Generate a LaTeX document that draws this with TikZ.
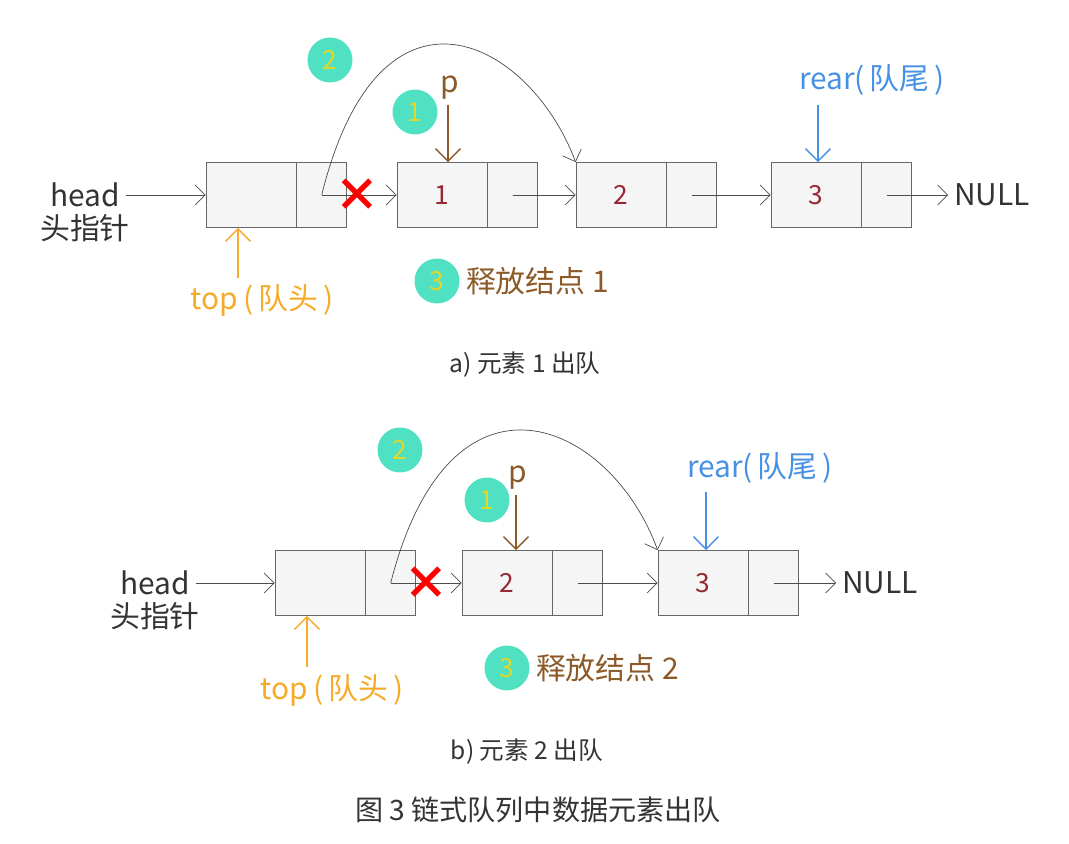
\documentclass[tikz,border=0pt]{standalone}
\usepackage{fontspec}
\setmainfont{Noto Sans CJK SC}
\usetikzlibrary{arrows.meta,positioning}
\definecolor{boxfill}{RGB}{245,245,245}
\definecolor{mint}{RGB}{80,225,195}
\definecolor{numyel}{RGB}{225,215,40}
\definecolor{brn}{RGB}{140,90,40}
\definecolor{rearblue}{RGB}{70,145,230}
\definecolor{toporange}{RGB}{245,170,40}
\definecolor{datared}{RGB}{150,40,50}
\begin{document}
\begin{tikzpicture}[x=0.02cm,y=-0.02cm,
    dpart/.style={rectangle, draw=gray!80!black, fill=boxfill, minimum width=1.8cm, minimum height=1.3cm, inner sep=0pt, font=\fontsize{15}{15}\selectfont, text=datared},
    ppart/.style={rectangle, draw=gray!80!black, fill=boxfill, minimum width=1.0cm, minimum height=1.3cm, inner sep=0pt},
    lbl/.style={font=\fontsize{17}{17}\selectfont, text=black!80},
    stepno/.style={circle, fill=mint, minimum size=0.9cm, inner sep=0pt, font=\fontsize{15}{15}\selectfont, text=numyel},
    captxt/.style={font=\fontsize{14}{14}\selectfont, text=black!80},
    arr/.style={-{Straight Barb[length=2mm]}, gray!60!black},
    parr/.style={-{Straight Barb[length=2.5mm]}, thick}
]
    \useasboundingbox (0,0) rectangle (1069,844);

    % ---- a) ----
    \node[dpart] (ah) at (251,195) {};
    \node[ppart, anchor=west] (ahp) at (ah.east) {};
    \node[dpart] (a1) at (442,195) {1};
    \node[ppart, anchor=west] (a1p) at (a1.east) {};
    \node[dpart] (a2) at (621,195) {2};
    \node[ppart, anchor=west] (a2p) at (a2.east) {};
    \node[dpart] (a3) at (816,195) {3};
    \node[ppart, anchor=west] (a3p) at (a3.east) {};

    \node[lbl] (ahead) at (85,195) {head};
    \node[lbl, below=-1mm of ahead] {头指针};
    \node[lbl] (anull) at (992,195) {NULL};

    \draw[arr] (ahead) -- (ah);
    \draw[arr] (ahp.center) -- (a1);
    \draw[arr] (a1p.center) -- (a2);
    \draw[arr] (a2p.center) -- (a3);
    \draw[arr] (a3p.center) -- (anull);
    \node[text=red, font=\fontsize{26}{26}\selectfont\bfseries] (ax) at (357,195) {\texttimes};

    \draw[arr] (ahp.center) .. controls (380,-40) and (530,40) .. (a2.north west);

    \node[stepno] (as2) at (330,60) {2};
    \node[stepno] (as1) at (415,112) {1};
    \node[lbl, text=brn] (ap) at (450,88) {p};
    \coordinate (ap0) at (448,105);
    \draw[parr, brn] (ap0) -- (ap0 |- a1.north);
    \node[lbl, text=rearblue] (arear) at (872,80) {rear(\,队尾\,)};
    \coordinate (arr0) at (818,105);
    \draw[parr, rearblue] (arr0) -- (arr0 |- a3.north);
    \node[lbl, text=toporange] (atop) at (262,300) {top\,(\,队头\,)};
    \coordinate (atp) at (238,278);
    \draw[parr, toporange] (atp) -- (atp |- ah.south);
    \node[stepno] (as3) at (437,281) {3};
    \node[lbl, text=brn, right=0mm of as3] {释放结点 1};
    \node[captxt] at (525,365) {a) 元素 1 出队};

    % ---- b) ----
    \node[dpart] (bh) at (320,583) {};
    \node[ppart, anchor=west] (bhp) at (bh.east) {};
    \node[dpart] (b2) at (507,583) {2};
    \node[ppart, anchor=west] (b2p) at (b2.east) {};
    \node[dpart] (b3) at (703,583) {3};
    \node[ppart, anchor=west] (b3p) at (b3.east) {};

    \node[lbl] (bhead) at (155,583) {head};
    \node[lbl, below=-1mm of bhead] {头指针};
    \node[lbl] (bnull) at (880,583) {NULL};

    \draw[arr] (bhead) -- (bh);
    \draw[arr] (bhp.center) -- (b2);
    \draw[arr] (b2p.center) -- (b3);
    \draw[arr] (b3p.center) -- (bnull);
    \node[text=red, font=\fontsize{26}{26}\selectfont\bfseries] (bx) at (426,583) {\texttimes};

    \draw[arr] (bhp.center) .. controls (450,350) and (610,420) .. (b3.north west);

    \node[stepno] (bs2) at (400,450) {2};
    \node[stepno] (bs1) at (487,500) {1};
    \node[lbl, text=brn] (bp) at (518,478) {p};
    \coordinate (bp0) at (516,495);
    \draw[parr, brn] (bp0) -- (bp0 |- b2.north);
    \node[lbl, text=rearblue] (brear) at (760,468) {rear(\,队尾\,)};
    \coordinate (brr0) at (706,492);
    \draw[parr, rearblue] (brr0) -- (brr0 |- b3.north);
    \node[lbl, text=toporange] (btop) at (332,690) {top\,(\,队头\,)};
    \coordinate (btp) at (307,667);
    \draw[parr, toporange] (btp) -- (btp |- bh.south);
    \node[stepno] (bs3) at (507,668) {3};
    \node[lbl, text=brn, right=0mm of bs3] {释放结点 2};
    \node[captxt] at (527,752) {b) 元素 2 出队};

    \node[captxt, font=\fontsize{16}{16}\selectfont] at (538,810) {图 3 链式队列中数据元素出队};
\end{tikzpicture}
\end{document}
